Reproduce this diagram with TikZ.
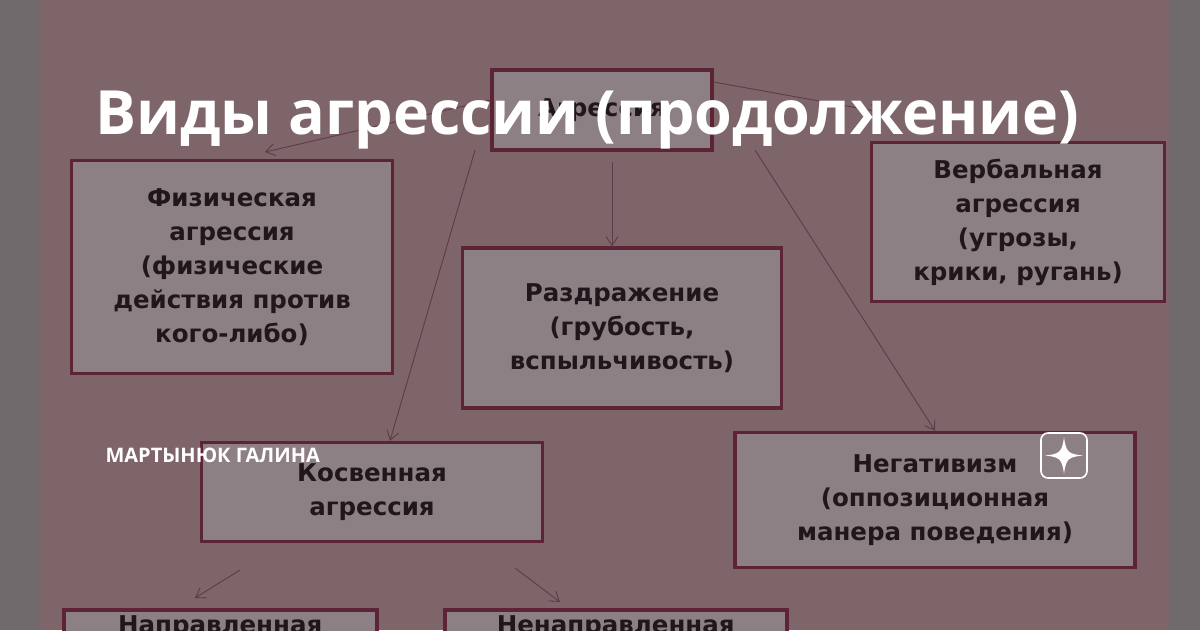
\documentclass[tikz,border=0pt]{standalone}
\usepackage{fontspec}
\setmainfont{DejaVu Sans}
\newfontfamily\titlefont{Open Sans}
\usetikzlibrary{arrows.meta,positioning}
\definecolor{outer}{RGB}{112,106,109}
\definecolor{slide}{RGB}{126,101,106}
\definecolor{boxfill}{RGB}{141,128,133}
\definecolor{boxline}{RGB}{92,36,54}
\definecolor{ink}{RGB}{32,22,27}
\definecolor{wire}{RGB}{96,58,70}
\begin{document}
\begin{tikzpicture}[x=1pt,y=-1pt,
    kind/.style={rectangle, draw=boxline, line width=3.5pt, fill=boxfill, text=ink, align=center,
      font=\fontsize{24.5}{34}\selectfont\bfseries, inner sep=0pt},
    arrow/.style={-{Straight Barb[length=9pt,width=12pt]}, draw=wire, line width=0.9pt}
]
    \useasboundingbox (0,0) rectangle (1200,630);
    \fill[outer] (0,0) rectangle (1200,630);
    \fill[slide] (40,0) rectangle (1170,630);

    % boxes of the scheme
    \node[kind, minimum width=220pt, minimum height=80pt] (root) at (602,110) {Агрессия};
    \node[kind, minimum width=321pt, minimum height=213pt] (phys) at (232,267) {Физическая\\агрессия\\(физические\\действия против\\кого-либо)};
    \node[kind, minimum width=293pt, minimum height=159pt] (verb) at (1018,222) {Вербальная\\агрессия\\(угрозы,\\крики, ругань)};
    \node[kind, minimum width=319pt, minimum height=160pt] (irr) at (622,328) {Раздражение\\(грубость,\\вспыльчивость)};
    \node[kind, minimum width=341pt, minimum height=99pt] (indir) at (372,492) {Косвенная\\агрессия};
    \node[kind, minimum width=400pt, minimum height=135pt] (neg) at (935,500) {Негативизм\\(оппозиционная\\манера поведения)};
    \node[kind, minimum width=313pt, minimum height=70pt, anchor=north west, text depth=40pt] (dir) at (62,608) {Направленная};
    \node[kind, minimum width=342pt, minimum height=70pt, anchor=north west, text depth=40pt] (undir) at (443,608) {Ненаправленная};

    % connectors
    \draw[arrow] (root.west |- 0,100) -- (265,152);
    \draw[arrow] (root.east |- 0,82) -- (880,112);
    \draw[arrow] (root.south) ++(10,10) coordinate (c1) (c1) -- (irr.north -| c1);
    \draw[arrow] (475,150) -- (indir.north -| 390,0);
    \draw[arrow] (755,150) -- (neg.north -| 935,0);
    \draw[arrow] (240,570) -- (195,598);
    \draw[arrow] (515,568) -- (560,602);

    % overlay
    \node[font=\titlefont\fontsize{61}{64}\selectfont\bfseries, text=white, anchor=west] (title) at (92,120) {Виды агрессии (продолжение)};
    \node[font=\titlefont\fontsize{20}{22}\selectfont\bfseries, text=white, anchor=west] (author) at (102,455) {МАРТЫНЮК ГАЛИНА};
    \draw[white, line width=1.6pt, rounded corners=7pt] (1041,433) rectangle (1087,478);
    \fill[white] (1064,437) .. controls (1066,452) and (1068,454) .. (1083,455.5)
      .. controls (1068,457) and (1066,459) .. (1064,474)
      .. controls (1062,459) and (1060,457) .. (1045,455.5)
      .. controls (1060,454) and (1062,452) .. (1064,437);
\end{tikzpicture}
\end{document}
